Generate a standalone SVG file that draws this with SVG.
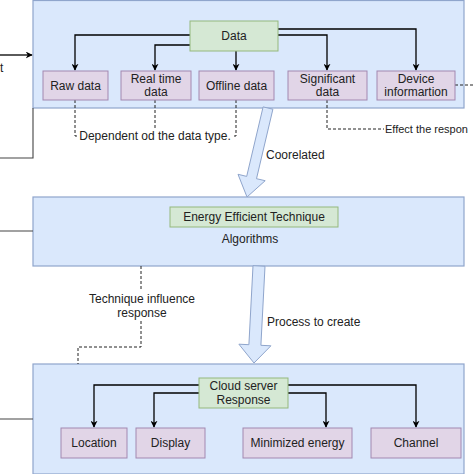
<svg xmlns="http://www.w3.org/2000/svg" width="474" height="474" viewBox="0 0 474 474">
<defs>
<marker id="ah" viewBox="0 0 10 10" refX="9" refY="5" markerWidth="7" markerHeight="7" markerUnits="userSpaceOnUse" orient="auto">
<path d="M0,0 L10,5 L0,10 L3,5 Z" fill="#000"/>
</marker>
</defs>
<style>
.cont{fill:#dae8fc;stroke:#8fa5cc;stroke-width:1.2}
.grn{fill:#d5e8d4;stroke:#94b87c;stroke-width:1}
.pur{fill:#e1d5e7;stroke:#a287b0;stroke-width:1}
.t{font-family:"Liberation Sans",Arial,sans-serif;font-size:12px;fill:#222;text-anchor:middle}
.tl{font-family:"Liberation Sans",Arial,sans-serif;font-size:12px;fill:#222;text-anchor:start}
.ln{fill:none;stroke:#000;stroke-width:1.3}
.dl{fill:none;stroke:#222;stroke-width:1;stroke-dasharray:3 2}
.ext{fill:none;stroke:#444;stroke-width:1.1}
.flex{fill:#dae8fc;stroke:#8fa5cc;stroke-width:1}
.lbg{fill:#fff}
</style>
<rect width="474" height="474" fill="#fff"/>

<g id="containers">
<rect id="top-container" class="cont" x="33" y="0.5" width="431" height="107.5"/>
<rect id="mid-container" class="cont" x="33" y="197" width="431" height="69"/>
<rect id="bottom-container" class="cont" x="33" y="364" width="431" height="110"/>
</g>

<g id="connectors">
<line class="ln" x1="0" y1="55" x2="32" y2="55" marker-end="url(#ah)"/>
<polyline class="ext" points="33,108 33,158 0,158"/>
<line class="ext" x1="0" y1="231" x2="33" y2="231"/>
<line class="ext" x1="0" y1="419" x2="33" y2="419"/>
<polyline class="ln" points="190,35 75,35 75,70" marker-end="url(#ah)"/>
<polyline class="ln" points="190,45 155,45 155,70" marker-end="url(#ah)"/>
<polyline class="ln" points="236,51 236,70" marker-end="url(#ah)"/>
<polyline class="ln" points="278,35 327,35 327,70" marker-end="url(#ah)"/>
<polyline class="ln" points="278,29 416,29 416,70" marker-end="url(#ah)"/>
<polyline class="dl" points="75,100 75,136 236,136 236,100"/>
<line class="dl" x1="155" y1="100" x2="155" y2="136"/>
<polyline class="dl" points="327,100 327,129 384,129"/>
<line class="dl" x1="455" y1="85" x2="474" y2="85"/>
<polyline class="dl" points="141,266 141,347 78,347 78,364"/>
<polygon class="flex" points="263.1,106.9 272.9,109.2 256.5,178.7 265.2,180.7 247,197 238,174.3 246.7,176.4"/>
<polygon class="flex" points="253,265.7 265,266.3 260.9,345.3 270.9,345.8 254,363 238.9,344.2 248.9,344.7"/>
<polyline class="ln" points="199,385 94,385 94,427" marker-end="url(#ah)"/>
<polyline class="ln" points="199,393 154,393 154,427" marker-end="url(#ah)"/>
<polyline class="ln" points="288,393 326,393 326,427" marker-end="url(#ah)"/>
<polyline class="ln" points="288,385 416,385 416,427" marker-end="url(#ah)"/>
<rect class="lbg" x="78" y="128" width="155" height="16"/>
<text class="t" x="155" y="140">Dependent od the data type.</text>
<text class="tl" x="385" y="133" style="font-size:11px">Effect the respon</text>
<text class="tl" x="266" y="159">Coorelated</text>
<rect class="lbg" x="84" y="291" width="116" height="28"/>
<text class="t" x="142" y="303">Technique influence</text>
<text class="t" x="142" y="317">response</text>
<text class="tl" x="267" y="326">Process to create</text>
<text class="tl" x="0" y="72">t</text>
</g>

<g id="data"><rect class="grn" x="190" y="21" width="88" height="30"/><text class="t" x="234" y="40">Data</text></g>
<g id="raw-data"><rect class="pur" x="43" y="71" width="65" height="29"/><text class="t" x="75.5" y="90">Raw data</text></g>
<g id="real-time-data"><rect class="pur" x="121" y="71" width="70" height="29"/><text class="t" x="156" y="83">Real time</text><text class="t" x="156" y="96">data</text></g>
<g id="offline-data"><rect class="pur" x="199" y="71" width="75" height="29"/><text class="t" x="236.5" y="90">Offline data</text></g>
<g id="significant-data"><rect class="pur" x="288" y="71" width="79" height="29"/><text class="t" x="327.5" y="83">Significant</text><text class="t" x="327.5" y="96">data</text></g>
<g id="device-information"><rect class="pur" x="377" y="71" width="78" height="29"/><text class="t" x="416" y="83">Device</text><text class="t" x="416" y="96">informartion</text></g>

<g id="energy-technique"><rect class="grn" x="170" y="207" width="168" height="20"/><text class="t" x="254" y="221">Energy Efficient Technique</text></g>
<g id="algorithms"><text class="t" x="250" y="243">Algorithms</text></g>

<g id="cloud-server"><rect class="grn" x="199" y="378" width="89" height="30"/><text class="t" x="243.5" y="390">Cloud server</text><text class="t" x="243.5" y="404">Response</text></g>
<g id="location"><rect class="pur" x="61" y="428" width="66" height="30"/><text class="t" x="94" y="447">Location</text></g>
<g id="display"><rect class="pur" x="136" y="428" width="69" height="30"/><text class="t" x="170.5" y="447">Display</text></g>
<g id="minimized-energy"><rect class="pur" x="243" y="428" width="109" height="30"/><text class="t" x="297.5" y="447">Minimized energy</text></g>
<g id="channel"><rect class="pur" x="371" y="428" width="90" height="30"/><text class="t" x="416" y="447">Channel</text></g>
</svg>
